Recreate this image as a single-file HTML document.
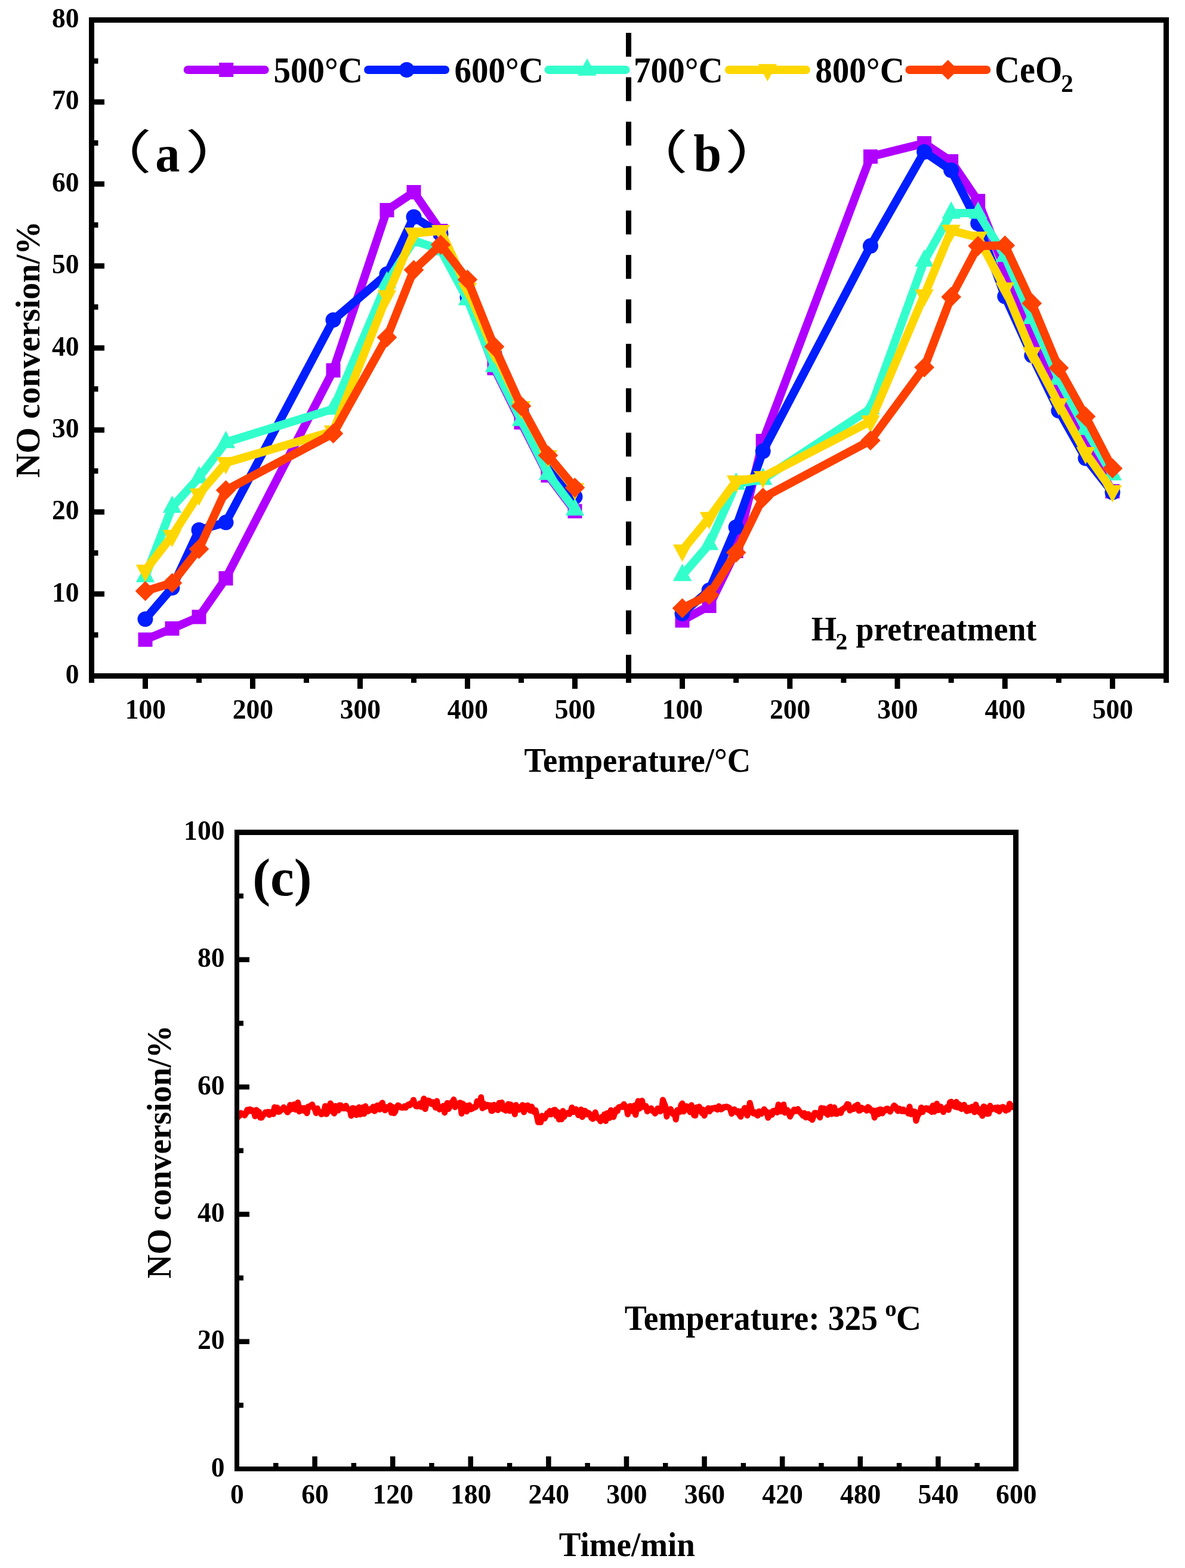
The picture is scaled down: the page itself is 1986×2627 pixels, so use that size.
<!DOCTYPE html>
<html><head><meta charset="utf-8"><title>NO conversion</title>
<style>html,body{margin:0;padding:0;background:#fff;}svg{display:block;}</style></head>
<body>
<svg width="1986" height="2627" viewBox="0 0 1986 2627">
<rect x="0" y="0" width="1986" height="2627" fill="#fff"/>
<path d="M243.50,1071.64 L288.50,1052.96 L333.50,1033.59 L378.50,968.89 L558.50,620.50 L648.50,352.07 L693.50,321.99 L738.50,386.97 L783.50,495.08 L828.50,616.66 L873.50,707.60 L918.50,796.48 L963.50,856.38" fill="none" stroke="#B000FF" stroke-width="14" stroke-linejoin="round" stroke-linecap="round"/>
<rect x="231.50" y="1059.64" width="24" height="24" fill="#B000FF"/>
<rect x="276.50" y="1040.96" width="24" height="24" fill="#B000FF"/>
<rect x="321.50" y="1021.59" width="24" height="24" fill="#B000FF"/>
<rect x="366.50" y="956.89" width="24" height="24" fill="#B000FF"/>
<rect x="546.50" y="608.50" width="24" height="24" fill="#B000FF"/>
<rect x="636.50" y="340.07" width="24" height="24" fill="#B000FF"/>
<rect x="681.50" y="309.99" width="24" height="24" fill="#B000FF"/>
<rect x="726.50" y="374.97" width="24" height="24" fill="#B000FF"/>
<rect x="771.50" y="483.08" width="24" height="24" fill="#B000FF"/>
<rect x="816.50" y="604.66" width="24" height="24" fill="#B000FF"/>
<rect x="861.50" y="695.60" width="24" height="24" fill="#B000FF"/>
<rect x="906.50" y="784.48" width="24" height="24" fill="#B000FF"/>
<rect x="951.50" y="844.38" width="24" height="24" fill="#B000FF"/>
<path d="M243.50,1037.30 L288.50,984.82 L333.50,887.97 L378.50,875.33 L558.50,536.16 L648.50,459.36 L693.50,363.47 L738.50,392.05 L783.50,497.83 L828.50,592.62 L873.50,688.78 L918.50,775.33 L963.50,832.20" fill="none" stroke="#001EFF" stroke-width="14" stroke-linejoin="round" stroke-linecap="round"/>
<circle cx="243.50" cy="1037.30" r="13" fill="#001EFF"/>
<circle cx="288.50" cy="984.82" r="13" fill="#001EFF"/>
<circle cx="333.50" cy="887.97" r="13" fill="#001EFF"/>
<circle cx="378.50" cy="875.33" r="13" fill="#001EFF"/>
<circle cx="558.50" cy="536.16" r="13" fill="#001EFF"/>
<circle cx="648.50" cy="459.36" r="13" fill="#001EFF"/>
<circle cx="693.50" cy="363.47" r="13" fill="#001EFF"/>
<circle cx="738.50" cy="392.05" r="13" fill="#001EFF"/>
<circle cx="783.50" cy="497.83" r="13" fill="#001EFF"/>
<circle cx="828.50" cy="592.62" r="13" fill="#001EFF"/>
<circle cx="873.50" cy="688.78" r="13" fill="#001EFF"/>
<circle cx="918.50" cy="775.33" r="13" fill="#001EFF"/>
<circle cx="963.50" cy="832.20" r="13" fill="#001EFF"/>
<path d="M243.50,965.86 L288.50,849.51 L333.50,800.05 L378.50,740.98 L558.50,685.07 L648.50,473.51 L693.50,403.04 L738.50,418.15 L783.50,501.95 L828.50,613.91 L873.50,704.16 L918.50,794.28 L963.50,854.04" fill="none" stroke="#33FFCC" stroke-width="14" stroke-linejoin="round" stroke-linecap="round"/>
<polygon points="243.50,946.53 259.20,975.53 227.80,975.53" fill="#33FFCC"/>
<polygon points="288.50,830.17 304.20,859.17 272.80,859.17" fill="#33FFCC"/>
<polygon points="333.50,780.72 349.20,809.72 317.80,809.72" fill="#33FFCC"/>
<polygon points="378.50,721.65 394.20,750.65 362.80,750.65" fill="#33FFCC"/>
<polygon points="558.50,665.74 574.20,694.74 542.80,694.74" fill="#33FFCC"/>
<polygon points="648.50,454.18 664.20,483.18 632.80,483.18" fill="#33FFCC"/>
<polygon points="693.50,383.71 709.20,412.71 677.80,412.71" fill="#33FFCC"/>
<polygon points="738.50,398.82 754.20,427.82 722.80,427.82" fill="#33FFCC"/>
<polygon points="783.50,482.62 799.20,511.62 767.80,511.62" fill="#33FFCC"/>
<polygon points="828.50,594.58 844.20,623.58 812.80,623.58" fill="#33FFCC"/>
<polygon points="873.50,684.83 889.20,713.83 857.80,713.83" fill="#33FFCC"/>
<polygon points="918.50,774.95 934.20,803.95 902.80,803.95" fill="#33FFCC"/>
<polygon points="963.50,834.71 979.20,863.71 947.80,863.71" fill="#33FFCC"/>
<path d="M243.50,955.56 L288.50,897.45 L333.50,827.80 L378.50,775.33 L558.50,722.44 L648.50,496.04 L693.50,390.95 L738.50,386.55 L783.50,483.68 L828.50,589.87 L873.50,681.64 L918.50,763.92 L963.50,818.87" fill="none" stroke="#FFD700" stroke-width="14" stroke-linejoin="round" stroke-linecap="round"/>
<polygon points="243.50,974.89 259.20,945.89 227.80,945.89" fill="#FFD700"/>
<polygon points="288.50,916.78 304.20,887.78 272.80,887.78" fill="#FFD700"/>
<polygon points="333.50,847.14 349.20,818.14 317.80,818.14" fill="#FFD700"/>
<polygon points="378.50,794.66 394.20,765.66 362.80,765.66" fill="#FFD700"/>
<polygon points="558.50,741.77 574.20,712.77 542.80,712.77" fill="#FFD700"/>
<polygon points="648.50,515.37 664.20,486.37 632.80,486.37" fill="#FFD700"/>
<polygon points="693.50,410.28 709.20,381.28 677.80,381.28" fill="#FFD700"/>
<polygon points="738.50,405.89 754.20,376.89 722.80,376.89" fill="#FFD700"/>
<polygon points="783.50,503.01 799.20,474.01 767.80,474.01" fill="#FFD700"/>
<polygon points="828.50,609.20 844.20,580.20 812.80,580.20" fill="#FFD700"/>
<polygon points="873.50,700.97 889.20,671.97 857.80,671.97" fill="#FFD700"/>
<polygon points="918.50,783.26 934.20,754.26 902.80,754.26" fill="#FFD700"/>
<polygon points="963.50,838.21 979.20,809.21 947.80,809.21" fill="#FFD700"/>
<path d="M243.50,990.18 L288.50,976.72 L333.50,919.71 L378.50,821.21 L558.50,726.28 L648.50,565.28 L693.50,452.36 L738.50,410.04 L783.50,468.43 L828.50,580.66 L873.50,680.26 L918.50,762.96 L963.50,816.95" fill="none" stroke="#FF4000" stroke-width="14" stroke-linejoin="round" stroke-linecap="round"/>
<polygon points="243.50,973.38 260.30,990.18 243.50,1006.98 226.70,990.18" fill="#FF4000"/>
<polygon points="288.50,959.92 305.30,976.72 288.50,993.52 271.70,976.72" fill="#FF4000"/>
<polygon points="333.50,902.91 350.30,919.71 333.50,936.51 316.70,919.71" fill="#FF4000"/>
<polygon points="378.50,804.41 395.30,821.21 378.50,838.01 361.70,821.21" fill="#FF4000"/>
<polygon points="558.50,709.48 575.30,726.28 558.50,743.08 541.70,726.28" fill="#FF4000"/>
<polygon points="648.50,548.48 665.30,565.28 648.50,582.08 631.70,565.28" fill="#FF4000"/>
<polygon points="693.50,435.56 710.30,452.36 693.50,469.16 676.70,452.36" fill="#FF4000"/>
<polygon points="738.50,393.24 755.30,410.04 738.50,426.84 721.70,410.04" fill="#FF4000"/>
<polygon points="783.50,451.63 800.30,468.43 783.50,485.23 766.70,468.43" fill="#FF4000"/>
<polygon points="828.50,563.86 845.30,580.66 828.50,597.46 811.70,580.66" fill="#FF4000"/>
<polygon points="873.50,663.46 890.30,680.26 873.50,697.06 856.70,680.26" fill="#FF4000"/>
<polygon points="918.50,746.16 935.30,762.96 918.50,779.76 901.70,762.96" fill="#FF4000"/>
<polygon points="963.50,800.15 980.30,816.95 963.50,833.75 946.70,816.95" fill="#FF4000"/>
<path d="M1143.50,1039.50 L1188.56,1015.04 L1233.62,923.14 L1278.69,738.92 L1458.94,262.37 L1549.06,240.11 L1594.12,270.33 L1639.19,336.82 L1684.25,451.12 L1729.31,554.70 L1774.38,662.27 L1819.44,746.06 L1864.50,823.13" fill="none" stroke="#B000FF" stroke-width="14" stroke-linejoin="round" stroke-linecap="round"/>
<rect x="1131.50" y="1027.50" width="24" height="24" fill="#B000FF"/>
<rect x="1176.56" y="1003.04" width="24" height="24" fill="#B000FF"/>
<rect x="1221.62" y="911.14" width="24" height="24" fill="#B000FF"/>
<rect x="1266.69" y="726.92" width="24" height="24" fill="#B000FF"/>
<rect x="1446.94" y="250.37" width="24" height="24" fill="#B000FF"/>
<rect x="1537.06" y="228.11" width="24" height="24" fill="#B000FF"/>
<rect x="1582.12" y="258.33" width="24" height="24" fill="#B000FF"/>
<rect x="1627.19" y="324.82" width="24" height="24" fill="#B000FF"/>
<rect x="1672.25" y="439.12" width="24" height="24" fill="#B000FF"/>
<rect x="1717.31" y="542.70" width="24" height="24" fill="#B000FF"/>
<rect x="1762.38" y="650.27" width="24" height="24" fill="#B000FF"/>
<rect x="1807.44" y="734.06" width="24" height="24" fill="#B000FF"/>
<rect x="1852.50" y="811.13" width="24" height="24" fill="#B000FF"/>
<path d="M1143.50,1027.82 L1188.56,988.94 L1233.62,883.16 L1278.69,756.09 L1458.94,412.11 L1549.06,254.54 L1594.12,285.31 L1639.19,374.19 L1684.25,496.45 L1729.31,595.36 L1774.38,688.09 L1819.44,767.77 L1864.50,824.78" fill="none" stroke="#001EFF" stroke-width="14" stroke-linejoin="round" stroke-linecap="round"/>
<circle cx="1143.50" cy="1027.82" r="13" fill="#001EFF"/>
<circle cx="1188.56" cy="988.94" r="13" fill="#001EFF"/>
<circle cx="1233.62" cy="883.16" r="13" fill="#001EFF"/>
<circle cx="1278.69" cy="756.09" r="13" fill="#001EFF"/>
<circle cx="1458.94" cy="412.11" r="13" fill="#001EFF"/>
<circle cx="1549.06" cy="254.54" r="13" fill="#001EFF"/>
<circle cx="1594.12" cy="285.31" r="13" fill="#001EFF"/>
<circle cx="1639.19" cy="374.19" r="13" fill="#001EFF"/>
<circle cx="1684.25" cy="496.45" r="13" fill="#001EFF"/>
<circle cx="1729.31" cy="595.36" r="13" fill="#001EFF"/>
<circle cx="1774.38" cy="688.09" r="13" fill="#001EFF"/>
<circle cx="1819.44" cy="767.77" r="13" fill="#001EFF"/>
<circle cx="1864.50" cy="824.78" r="13" fill="#001EFF"/>
<path d="M1143.50,963.94 L1188.56,911.88 L1233.62,810.91 L1278.69,802.80 L1458.94,684.66 L1549.06,436.97 L1594.12,356.88 L1639.19,356.88 L1684.25,429.14 L1729.31,533.27 L1774.38,635.20 L1819.44,719.00 L1864.50,795.11" fill="none" stroke="#33FFCC" stroke-width="14" stroke-linejoin="round" stroke-linecap="round"/>
<polygon points="1143.50,944.61 1159.20,973.61 1127.80,973.61" fill="#33FFCC"/>
<polygon points="1188.56,892.54 1204.26,921.54 1172.86,921.54" fill="#33FFCC"/>
<polygon points="1233.62,791.57 1249.33,820.57 1217.92,820.57" fill="#33FFCC"/>
<polygon points="1278.69,783.47 1294.39,812.47 1262.99,812.47" fill="#33FFCC"/>
<polygon points="1458.94,665.32 1474.64,694.32 1443.24,694.32" fill="#33FFCC"/>
<polygon points="1549.06,417.64 1564.76,446.64 1533.36,446.64" fill="#33FFCC"/>
<polygon points="1594.12,337.55 1609.83,366.55 1578.42,366.55" fill="#33FFCC"/>
<polygon points="1639.19,337.55 1654.89,366.55 1623.49,366.55" fill="#33FFCC"/>
<polygon points="1684.25,409.81 1699.95,438.81 1668.55,438.81" fill="#33FFCC"/>
<polygon points="1729.31,513.94 1745.01,542.94 1713.61,542.94" fill="#33FFCC"/>
<polygon points="1774.38,615.87 1790.08,644.87 1758.67,644.87" fill="#33FFCC"/>
<polygon points="1819.44,699.67 1835.14,728.67 1803.74,728.67" fill="#33FFCC"/>
<polygon points="1864.50,775.77 1880.20,804.77 1848.80,804.77" fill="#33FFCC"/>
<path d="M1143.50,921.90 L1188.56,867.37 L1233.62,806.23 L1278.69,798.95 L1458.94,705.68 L1549.06,494.39 L1594.12,386.14 L1639.19,397.68 L1684.25,482.99 L1729.31,591.24 L1774.38,676.83 L1819.44,758.70 L1864.50,822.31" fill="none" stroke="#FFD700" stroke-width="14" stroke-linejoin="round" stroke-linecap="round"/>
<polygon points="1143.50,941.24 1159.20,912.24 1127.80,912.24" fill="#FFD700"/>
<polygon points="1188.56,886.70 1204.26,857.70 1172.86,857.70" fill="#FFD700"/>
<polygon points="1233.62,825.57 1249.33,796.57 1217.92,796.57" fill="#FFD700"/>
<polygon points="1278.69,818.29 1294.39,789.29 1262.99,789.29" fill="#FFD700"/>
<polygon points="1458.94,725.01 1474.64,696.01 1443.24,696.01" fill="#FFD700"/>
<polygon points="1549.06,513.73 1564.76,484.73 1533.36,484.73" fill="#FFD700"/>
<polygon points="1594.12,405.47 1609.83,376.47 1578.42,376.47" fill="#FFD700"/>
<polygon points="1639.19,417.01 1654.89,388.01 1623.49,388.01" fill="#FFD700"/>
<polygon points="1684.25,502.32 1699.95,473.32 1668.55,473.32" fill="#FFD700"/>
<polygon points="1729.31,610.58 1745.01,581.58 1713.61,581.58" fill="#FFD700"/>
<polygon points="1774.38,696.16 1790.08,667.16 1758.67,667.16" fill="#FFD700"/>
<polygon points="1819.44,778.04 1835.14,749.04 1803.74,749.04" fill="#FFD700"/>
<polygon points="1864.50,841.64 1880.20,812.64 1848.80,812.64" fill="#FFD700"/>
<path d="M1143.50,1019.03 L1188.56,996.77 L1233.62,925.75 L1278.69,833.85 L1458.94,737.96 L1549.06,615.56 L1594.12,497.42 L1639.19,412.11 L1684.25,411.28 L1729.31,508.13 L1774.38,616.38 L1819.44,697.71 L1864.50,784.67" fill="none" stroke="#FF4000" stroke-width="14" stroke-linejoin="round" stroke-linecap="round"/>
<polygon points="1143.50,1002.23 1160.30,1019.03 1143.50,1035.83 1126.70,1019.03" fill="#FF4000"/>
<polygon points="1188.56,979.97 1205.36,996.77 1188.56,1013.57 1171.76,996.77" fill="#FF4000"/>
<polygon points="1233.62,908.95 1250.42,925.75 1233.62,942.55 1216.83,925.75" fill="#FF4000"/>
<polygon points="1278.69,817.05 1295.49,833.85 1278.69,850.65 1261.89,833.85" fill="#FF4000"/>
<polygon points="1458.94,721.16 1475.74,737.96 1458.94,754.76 1442.14,737.96" fill="#FF4000"/>
<polygon points="1549.06,598.76 1565.86,615.56 1549.06,632.36 1532.26,615.56" fill="#FF4000"/>
<polygon points="1594.12,480.62 1610.92,497.42 1594.12,514.22 1577.33,497.42" fill="#FF4000"/>
<polygon points="1639.19,395.31 1655.99,412.11 1639.19,428.91 1622.39,412.11" fill="#FF4000"/>
<polygon points="1684.25,394.48 1701.05,411.28 1684.25,428.08 1667.45,411.28" fill="#FF4000"/>
<polygon points="1729.31,491.33 1746.11,508.13 1729.31,524.93 1712.51,508.13" fill="#FF4000"/>
<polygon points="1774.38,599.58 1791.17,616.38 1774.38,633.18 1757.58,616.38" fill="#FF4000"/>
<polygon points="1819.44,680.91 1836.24,697.71 1819.44,714.51 1802.64,697.71" fill="#FF4000"/>
<polygon points="1864.50,767.87 1881.30,784.67 1864.50,801.47 1847.70,784.67" fill="#FF4000"/>
<rect x="149.00" y="29.00" width="1810.00" height="9.00" fill="#000"/>
<rect x="149.00" y="1128.00" width="1810.00" height="9.00" fill="#000"/>
<rect x="149.00" y="29.00" width="9.00" height="1115.00" fill="#000"/>
<rect x="1950.00" y="29.00" width="9.00" height="1115.00" fill="#000"/>
<rect x="1049.00" y="55.00" width="9.00" height="40.00" fill="#000"/>
<rect x="1049.00" y="129.43" width="9.00" height="40.00" fill="#000"/>
<rect x="1049.00" y="203.86" width="9.00" height="40.00" fill="#000"/>
<rect x="1049.00" y="278.29" width="9.00" height="40.00" fill="#000"/>
<rect x="1049.00" y="352.72" width="9.00" height="40.00" fill="#000"/>
<rect x="1049.00" y="427.15" width="9.00" height="40.00" fill="#000"/>
<rect x="1049.00" y="501.58" width="9.00" height="40.00" fill="#000"/>
<rect x="1049.00" y="576.01" width="9.00" height="40.00" fill="#000"/>
<rect x="1049.00" y="650.44" width="9.00" height="40.00" fill="#000"/>
<rect x="1049.00" y="724.87" width="9.00" height="40.00" fill="#000"/>
<rect x="1049.00" y="799.30" width="9.00" height="40.00" fill="#000"/>
<rect x="1049.00" y="873.73" width="9.00" height="40.00" fill="#000"/>
<rect x="1049.00" y="948.16" width="9.00" height="40.00" fill="#000"/>
<rect x="1049.00" y="1022.59" width="9.00" height="40.00" fill="#000"/>
<rect x="1049.00" y="1097.02" width="9.00" height="39.98" fill="#000"/>
<rect x="1049.00" y="1128.00" width="9.00" height="16.00" fill="#000"/>
<rect x="158.00" y="1128.00" width="17.00" height="9.00" fill="#000"/>
<rect x="158.00" y="990.62" width="17.00" height="9.00" fill="#000"/>
<rect x="158.00" y="853.25" width="17.00" height="9.00" fill="#000"/>
<rect x="158.00" y="715.88" width="17.00" height="9.00" fill="#000"/>
<rect x="158.00" y="578.50" width="17.00" height="9.00" fill="#000"/>
<rect x="158.00" y="441.12" width="17.00" height="9.00" fill="#000"/>
<rect x="158.00" y="303.75" width="17.00" height="9.00" fill="#000"/>
<rect x="158.00" y="166.38" width="17.00" height="9.00" fill="#000"/>
<rect x="158.00" y="29.00" width="17.00" height="9.00" fill="#000"/>
<rect x="158.00" y="1059.31" width="6.50" height="9.00" fill="#000"/>
<rect x="158.00" y="921.94" width="6.50" height="9.00" fill="#000"/>
<rect x="158.00" y="784.56" width="6.50" height="9.00" fill="#000"/>
<rect x="158.00" y="647.19" width="6.50" height="9.00" fill="#000"/>
<rect x="158.00" y="509.81" width="6.50" height="9.00" fill="#000"/>
<rect x="158.00" y="372.44" width="6.50" height="9.00" fill="#000"/>
<rect x="158.00" y="235.06" width="6.50" height="9.00" fill="#000"/>
<rect x="158.00" y="97.69" width="6.50" height="9.00" fill="#000"/>
<rect x="239.00" y="1137.00" width="9.00" height="17.00" fill="#000"/>
<rect x="419.00" y="1137.00" width="9.00" height="17.00" fill="#000"/>
<rect x="599.00" y="1137.00" width="9.00" height="17.00" fill="#000"/>
<rect x="779.00" y="1137.00" width="9.00" height="17.00" fill="#000"/>
<rect x="959.00" y="1137.00" width="9.00" height="17.00" fill="#000"/>
<rect x="329.00" y="1137.00" width="9.00" height="7.00" fill="#000"/>
<rect x="509.00" y="1137.00" width="9.00" height="7.00" fill="#000"/>
<rect x="689.00" y="1137.00" width="9.00" height="7.00" fill="#000"/>
<rect x="869.00" y="1137.00" width="9.00" height="7.00" fill="#000"/>
<rect x="1139.00" y="1137.00" width="9.00" height="17.00" fill="#000"/>
<rect x="1319.25" y="1137.00" width="9.00" height="17.00" fill="#000"/>
<rect x="1499.50" y="1137.00" width="9.00" height="17.00" fill="#000"/>
<rect x="1679.75" y="1137.00" width="9.00" height="17.00" fill="#000"/>
<rect x="1860.00" y="1137.00" width="9.00" height="17.00" fill="#000"/>
<rect x="1229.12" y="1137.00" width="9.00" height="7.00" fill="#000"/>
<rect x="1409.38" y="1137.00" width="9.00" height="7.00" fill="#000"/>
<rect x="1589.62" y="1137.00" width="9.00" height="7.00" fill="#000"/>
<rect x="1769.88" y="1137.00" width="9.00" height="7.00" fill="#000"/>
<text x="132.50" y="1145.00" font-size="45.60" text-anchor="end" style="font-family:'Liberation Serif', serif;font-weight:bold">0</text>
<text x="132.50" y="1007.62" font-size="45.60" text-anchor="end" style="font-family:'Liberation Serif', serif;font-weight:bold">10</text>
<text x="132.50" y="870.25" font-size="45.60" text-anchor="end" style="font-family:'Liberation Serif', serif;font-weight:bold">20</text>
<text x="132.50" y="732.88" font-size="45.60" text-anchor="end" style="font-family:'Liberation Serif', serif;font-weight:bold">30</text>
<text x="132.50" y="595.50" font-size="45.60" text-anchor="end" style="font-family:'Liberation Serif', serif;font-weight:bold">40</text>
<text x="132.50" y="458.12" font-size="45.60" text-anchor="end" style="font-family:'Liberation Serif', serif;font-weight:bold">50</text>
<text x="132.50" y="320.75" font-size="45.60" text-anchor="end" style="font-family:'Liberation Serif', serif;font-weight:bold">60</text>
<text x="132.50" y="183.38" font-size="45.60" text-anchor="end" style="font-family:'Liberation Serif', serif;font-weight:bold">70</text>
<text x="132.50" y="46.00" font-size="45.60" text-anchor="end" style="font-family:'Liberation Serif', serif;font-weight:bold">80</text>
<text x="243.90" y="1204.00" font-size="45.60" text-anchor="middle" style="font-family:'Liberation Serif', serif;font-weight:bold">100</text>
<text x="423.90" y="1204.00" font-size="45.60" text-anchor="middle" style="font-family:'Liberation Serif', serif;font-weight:bold">200</text>
<text x="603.90" y="1204.00" font-size="45.60" text-anchor="middle" style="font-family:'Liberation Serif', serif;font-weight:bold">300</text>
<text x="783.90" y="1204.00" font-size="45.60" text-anchor="middle" style="font-family:'Liberation Serif', serif;font-weight:bold">400</text>
<text x="963.90" y="1204.00" font-size="45.60" text-anchor="middle" style="font-family:'Liberation Serif', serif;font-weight:bold">500</text>
<text x="1143.90" y="1204.00" font-size="45.60" text-anchor="middle" style="font-family:'Liberation Serif', serif;font-weight:bold">100</text>
<text x="1324.15" y="1204.00" font-size="45.60" text-anchor="middle" style="font-family:'Liberation Serif', serif;font-weight:bold">200</text>
<text x="1504.40" y="1204.00" font-size="45.60" text-anchor="middle" style="font-family:'Liberation Serif', serif;font-weight:bold">300</text>
<text x="1684.65" y="1204.00" font-size="45.60" text-anchor="middle" style="font-family:'Liberation Serif', serif;font-weight:bold">400</text>
<text x="1864.90" y="1204.00" font-size="45.60" text-anchor="middle" style="font-family:'Liberation Serif', serif;font-weight:bold">500</text>
<line x1="314.70" y1="117.0" x2="443.70" y2="117.0" stroke="#B000FF" stroke-width="14" stroke-linecap="round"/>
<rect x="367.20" y="105.00" width="24" height="24" fill="#B000FF"/>
<line x1="617.10" y1="117.0" x2="746.10" y2="117.0" stroke="#001EFF" stroke-width="14" stroke-linecap="round"/>
<circle cx="681.60" cy="117.00" r="13" fill="#001EFF"/>
<line x1="919.50" y1="117.0" x2="1048.50" y2="117.0" stroke="#33FFCC" stroke-width="14" stroke-linecap="round"/>
<polygon points="984.00,97.67 999.70,126.67 968.30,126.67" fill="#33FFCC"/>
<line x1="1221.90" y1="117.0" x2="1350.90" y2="117.0" stroke="#FFD700" stroke-width="14" stroke-linecap="round"/>
<polygon points="1286.40,136.33 1302.10,107.33 1270.70,107.33" fill="#FFD700"/>
<line x1="1524.30" y1="117.0" x2="1653.30" y2="117.0" stroke="#FF4000" stroke-width="14" stroke-linecap="round"/>
<polygon points="1588.80,100.20 1605.60,117.00 1588.80,133.80 1572.00,117.00" fill="#FF4000"/>
<text transform="translate(458.42,137.50) scale(0.9200,1)" font-size="62.06" style="font-family:'Liberation Serif', serif;font-weight:bold">500°C</text>
<text transform="translate(761.39,137.50) scale(0.9200,1)" font-size="62.06" style="font-family:'Liberation Serif', serif;font-weight:bold">600°C</text>
<text transform="translate(1062.07,137.50) scale(0.9200,1)" font-size="62.06" style="font-family:'Liberation Serif', serif;font-weight:bold">700°C</text>
<text transform="translate(1366.19,137.50) scale(0.9200,1)" font-size="62.06" style="font-family:'Liberation Serif', serif;font-weight:bold">800°C</text>
<text transform="translate(1666.99,137.54) scale(0.9272,1)" font-size="62.84" style="font-family:'Liberation Serif', serif;font-weight:bold">CeO</text>
<text transform="translate(1778.35,153.67) scale(0.9606,1)" font-size="42.88" style="font-family:'Liberation Serif', serif;font-weight:bold">2</text>
<text transform="translate(146.78,283.18) scale(1.3758,1)" font-size="78.21" style="font-family:'Liberation Serif','Noto Sans CJK SC',sans-serif;font-weight:400">（</text>
<text transform="translate(260.33,286.80) scale(0.9203,1)" font-size="89.58" style="font-family:'Liberation Serif', serif;font-weight:bold">a</text>
<text transform="translate(310.10,283.18) scale(1.4320,1)" font-size="78.21" style="font-family:'Liberation Serif','Noto Sans CJK SC',sans-serif;font-weight:400">）</text>
<text transform="translate(1045.68,283.18) scale(1.3758,1)" font-size="78.21" style="font-family:'Liberation Serif','Noto Sans CJK SC',sans-serif;font-weight:400">（</text>
<text transform="translate(1162.16,286.82) scale(0.9535,1)" font-size="88.43" style="font-family:'Liberation Serif', serif;font-weight:bold">b</text>
<text transform="translate(1214.50,283.18) scale(1.4065,1)" font-size="78.21" style="font-family:'Liberation Serif','Noto Sans CJK SC',sans-serif;font-weight:400">）</text>
<text transform="translate(1359.71,1072.90) scale(0.9541,1)" font-size="57.08" style="font-family:'Liberation Serif', serif;font-weight:bold">H</text>
<text transform="translate(1400.61,1087.60) scale(0.9940,1)" font-size="40.00" style="font-family:'Liberation Serif', serif;font-weight:bold">2</text>
<text transform="translate(1434.46,1072.54) scale(0.9291,1)" font-size="57.92" style="font-family:'Liberation Serif', serif;font-weight:bold">pretreatment</text>
<text transform="translate(878.61,1293.00) scale(0.9558,1)" font-size="57.10" style="font-family:'Liberation Serif', serif;font-weight:bold">Temperature/°C</text>
<text transform="translate(65.80,800.33) rotate(-90) scale(0.9707,1)" font-size="58.00" style="font-family:'Liberation Serif', serif;font-weight:bold">NO conversion/%</text>
<path d="M397.0,1874.4 L399.2,1869.6 L401.4,1869.4 L403.5,1864.6 L405.7,1866.5 L407.9,1866.1 L410.1,1868.7 L412.2,1865.3 L414.4,1859.2 L416.6,1861.7 L418.8,1858.4 L420.9,1861.4 L423.1,1860.1 L425.3,1861.2 L427.5,1870.2 L429.6,1859.6 L431.8,1861.8 L434.0,1862.6 L436.2,1872.4 L438.4,1872.6 L440.5,1868.8 L442.7,1866.9 L444.9,1863.5 L447.1,1865.2 L449.2,1862.7 L451.4,1868.0 L453.6,1863.8 L455.8,1862.6 L457.9,1866.5 L460.1,1855.0 L462.3,1859.4 L464.5,1855.6 L466.6,1862.8 L468.8,1862.4 L471.0,1859.7 L473.2,1857.9 L475.4,1855.1 L477.5,1857.3 L479.7,1860.9 L481.9,1863.6 L484.1,1860.6 L486.2,1851.1 L488.4,1858.5 L490.6,1852.1 L492.8,1850.2 L494.9,1859.1 L497.1,1852.5 L499.3,1847.1 L501.5,1862.3 L503.6,1855.8 L505.8,1856.3 L508.0,1860.8 L510.2,1856.3 L512.4,1859.6 L514.5,1865.1 L516.7,1854.1 L518.9,1854.1 L521.1,1852.1 L523.2,1850.5 L525.4,1856.0 L527.6,1857.8 L529.8,1864.9 L531.9,1856.9 L534.1,1862.9 L536.3,1862.7 L538.5,1866.8 L540.6,1866.0 L542.8,1862.6 L545.0,1853.1 L547.2,1866.6 L549.4,1862.7 L551.5,1854.2 L553.7,1848.5 L555.9,1852.1 L558.1,1863.0 L560.2,1865.4 L562.4,1853.0 L564.6,1858.4 L566.8,1860.6 L568.9,1851.7 L571.1,1851.8 L573.3,1856.7 L575.5,1857.0 L577.6,1856.9 L579.8,1852.4 L582.0,1857.5 L584.2,1858.7 L586.4,1859.2 L588.5,1869.4 L590.7,1856.4 L592.9,1856.9 L595.1,1857.8 L597.2,1868.0 L599.4,1861.3 L601.6,1855.0 L603.8,1867.2 L605.9,1860.2 L608.1,1855.2 L610.3,1866.0 L612.5,1853.3 L614.6,1858.4 L616.8,1862.0 L619.0,1860.0 L621.2,1857.8 L623.4,1859.5 L625.5,1854.2 L627.7,1861.5 L629.9,1859.5 L632.1,1852.1 L634.2,1855.7 L636.4,1858.8 L638.6,1849.9 L640.8,1847.6 L642.9,1856.2 L645.1,1860.3 L647.3,1854.8 L649.5,1856.0 L651.7,1858.1 L653.8,1851.9 L656.0,1864.3 L658.2,1854.6 L660.4,1865.1 L662.5,1862.1 L664.7,1854.9 L666.9,1851.9 L669.1,1852.9 L671.2,1855.1 L673.4,1855.8 L675.6,1855.7 L677.8,1853.3 L679.9,1855.7 L682.1,1852.7 L684.3,1850.4 L686.5,1852.0 L688.7,1848.5 L690.8,1849.3 L693.0,1842.7 L695.2,1850.1 L697.4,1853.6 L699.5,1853.7 L701.7,1852.4 L703.9,1848.6 L706.1,1854.6 L708.2,1849.2 L710.4,1840.5 L712.6,1858.1 L714.8,1849.5 L716.9,1843.8 L719.1,1844.1 L721.3,1845.8 L723.5,1849.8 L725.7,1846.4 L727.8,1850.1 L730.0,1855.8 L732.2,1844.6 L734.4,1856.0 L736.5,1858.8 L738.7,1855.5 L740.9,1854.7 L743.1,1852.7 L745.2,1864.2 L747.4,1854.4 L749.6,1848.0 L751.8,1858.0 L753.9,1853.4 L756.1,1847.4 L758.3,1846.4 L760.5,1842.1 L762.7,1854.9 L764.8,1849.2 L767.0,1850.7 L769.2,1848.0 L771.4,1847.4 L773.5,1865.8 L775.7,1849.3 L777.9,1861.1 L780.1,1852.0 L782.2,1862.2 L784.4,1855.3 L786.6,1851.6 L788.8,1858.4 L790.9,1857.7 L793.1,1855.1 L795.3,1855.8 L797.5,1854.5 L799.7,1844.9 L801.8,1844.8 L804.0,1850.9 L806.2,1838.3 L808.4,1856.7 L810.5,1848.5 L812.7,1854.7 L814.9,1853.2 L817.1,1850.9 L819.2,1853.4 L821.4,1851.8 L823.6,1861.3 L825.8,1860.8 L827.9,1850.9 L830.1,1857.7 L832.3,1857.7 L834.5,1859.9 L836.7,1847.7 L838.8,1850.2 L841.0,1847.1 L843.2,1858.5 L845.4,1854.9 L847.5,1860.7 L849.7,1852.8 L851.9,1849.7 L854.1,1861.2 L856.2,1850.6 L858.4,1853.6 L860.6,1859.2 L862.8,1866.8 L864.9,1851.2 L867.1,1857.5 L869.3,1859.3 L871.5,1854.8 L873.7,1855.5 L875.8,1851.3 L878.0,1863.3 L880.2,1854.4 L882.4,1852.4 L884.5,1852.0 L886.7,1858.9 L888.9,1860.9 L891.1,1854.1 L893.2,1860.8 L895.4,1863.3 L897.6,1860.1 L899.8,1870.3 L901.9,1880.3 L904.1,1872.8 L906.3,1880.3 L908.5,1869.3 L910.7,1871.1 L912.8,1873.9 L915.0,1869.9 L917.2,1864.8 L919.4,1866.9 L921.5,1861.1 L923.7,1867.1 L925.9,1861.9 L928.1,1859.7 L930.2,1859.3 L932.4,1869.7 L934.6,1863.0 L936.8,1875.5 L938.9,1872.0 L941.1,1875.4 L943.3,1861.3 L945.5,1871.1 L947.7,1865.0 L949.8,1865.5 L952.0,1864.4 L954.2,1866.6 L956.4,1862.6 L958.5,1855.4 L960.7,1863.0 L962.9,1860.6 L965.1,1858.3 L967.2,1863.4 L969.4,1868.4 L971.6,1865.7 L973.8,1858.8 L975.9,1871.4 L978.1,1867.2 L980.3,1861.0 L982.5,1862.9 L984.7,1867.3 L986.8,1864.6 L989.0,1867.4 L991.2,1873.2 L993.4,1874.7 L995.5,1870.3 L997.7,1863.6 L999.9,1871.2 L1002.1,1873.8 L1004.2,1874.2 L1006.4,1878.6 L1008.6,1871.2 L1010.8,1874.9 L1012.9,1866.9 L1015.1,1878.1 L1017.3,1865.0 L1019.5,1868.2 L1021.7,1873.0 L1023.8,1860.0 L1026.0,1863.4 L1028.2,1871.5 L1030.4,1864.7 L1032.5,1858.8 L1034.7,1861.4 L1036.9,1855.1 L1039.1,1854.4 L1041.2,1854.0 L1043.4,1854.7 L1045.6,1849.9 L1047.8,1853.5 L1049.9,1855.0 L1052.1,1867.0 L1054.3,1854.2 L1056.5,1853.0 L1058.7,1860.8 L1060.8,1862.2 L1063.0,1852.1 L1065.2,1867.8 L1067.4,1855.6 L1069.5,1844.6 L1071.7,1857.4 L1073.9,1847.9 L1076.1,1844.0 L1078.2,1854.5 L1080.4,1852.9 L1082.6,1852.9 L1084.8,1862.1 L1087.0,1859.2 L1089.1,1858.3 L1091.3,1856.7 L1093.5,1861.2 L1095.7,1862.0 L1097.8,1865.6 L1100.0,1862.7 L1102.2,1857.1 L1104.4,1859.5 L1106.5,1862.0 L1108.7,1860.1 L1110.9,1842.6 L1113.1,1848.5 L1115.2,1853.5 L1117.4,1870.7 L1119.6,1859.0 L1121.8,1862.4 L1124.0,1858.1 L1126.1,1864.2 L1128.3,1866.8 L1130.5,1864.6 L1132.7,1875.5 L1134.8,1859.9 L1137.0,1860.8 L1139.2,1863.1 L1141.4,1851.8 L1143.5,1848.6 L1145.7,1862.3 L1147.9,1858.3 L1150.1,1853.3 L1152.2,1854.0 L1154.4,1858.6 L1156.6,1863.3 L1158.8,1851.5 L1161.0,1858.4 L1163.1,1868.6 L1165.3,1869.1 L1167.5,1855.2 L1169.7,1858.2 L1171.8,1854.1 L1174.0,1858.0 L1176.2,1864.8 L1178.4,1859.1 L1180.5,1869.2 L1182.7,1862.7 L1184.9,1859.4 L1187.1,1856.6 L1189.2,1862.0 L1191.4,1859.2 L1193.6,1856.6 L1195.8,1857.0 L1198.0,1855.8 L1200.1,1857.7 L1202.3,1859.1 L1204.5,1853.2 L1206.7,1855.6 L1208.8,1858.5 L1211.0,1857.2 L1213.2,1854.5 L1215.4,1855.0 L1217.5,1853.9 L1219.7,1854.7 L1221.9,1855.8 L1224.1,1859.1 L1226.2,1866.0 L1228.4,1860.4 L1230.6,1858.4 L1232.8,1861.2 L1235.0,1864.1 L1237.1,1861.4 L1239.3,1867.7 L1241.5,1870.9 L1243.7,1861.2 L1245.8,1864.7 L1248.0,1856.2 L1250.2,1863.3 L1252.4,1869.0 L1254.5,1860.6 L1256.7,1847.7 L1258.9,1856.2 L1261.1,1864.4 L1263.2,1865.5 L1265.4,1863.5 L1267.6,1867.4 L1269.8,1869.1 L1272.0,1861.9 L1274.1,1864.1 L1276.3,1866.0 L1278.5,1862.3 L1280.7,1858.3 L1282.8,1862.1 L1285.0,1862.6 L1287.2,1872.7 L1289.4,1868.2 L1291.5,1863.7 L1293.7,1867.7 L1295.9,1861.0 L1298.1,1862.4 L1300.2,1859.9 L1302.4,1863.8 L1304.6,1850.4 L1306.8,1855.1 L1309.0,1862.0 L1311.1,1861.2 L1313.3,1850.5 L1315.5,1864.2 L1317.7,1859.4 L1319.8,1859.7 L1322.0,1864.7 L1324.2,1870.7 L1326.4,1865.4 L1328.5,1863.6 L1330.7,1859.0 L1332.9,1859.4 L1335.1,1861.6 L1337.2,1858.1 L1339.4,1861.1 L1341.6,1864.2 L1343.8,1866.5 L1346.0,1869.4 L1348.1,1864.8 L1350.3,1872.2 L1352.5,1869.8 L1354.7,1866.5 L1356.8,1873.1 L1359.0,1869.1 L1361.2,1876.2 L1363.4,1870.2 L1365.5,1864.6 L1367.7,1864.6 L1369.9,1867.4 L1372.1,1868.2 L1374.2,1872.2 L1376.4,1856.3 L1378.6,1860.9 L1380.8,1856.9 L1383.0,1864.6 L1385.1,1860.9 L1387.3,1867.7 L1389.5,1855.5 L1391.7,1854.2 L1393.8,1866.5 L1396.0,1858.2 L1398.2,1855.2 L1400.4,1865.9 L1402.5,1866.2 L1404.7,1862.9 L1406.9,1861.1 L1409.1,1864.8 L1411.2,1858.6 L1413.4,1857.9 L1415.6,1855.7 L1417.8,1854.4 L1420.0,1849.8 L1422.1,1850.4 L1424.3,1860.5 L1426.5,1856.3 L1428.7,1858.4 L1430.8,1858.0 L1433.0,1853.1 L1435.2,1852.3 L1437.4,1850.7 L1439.5,1860.9 L1441.7,1860.2 L1443.9,1855.7 L1446.1,1857.3 L1448.2,1858.2 L1450.4,1857.4 L1452.6,1860.8 L1454.8,1854.6 L1457.0,1856.5 L1459.1,1859.0 L1461.3,1862.2 L1463.5,1860.5 L1465.7,1872.5 L1467.8,1865.1 L1470.0,1860.2 L1472.2,1866.7 L1474.4,1858.8 L1476.5,1858.7 L1478.7,1865.3 L1480.9,1860.5 L1483.1,1861.0 L1485.2,1857.7 L1487.4,1857.3 L1489.6,1859.9 L1491.8,1862.4 L1494.0,1858.2 L1496.1,1856.7 L1498.3,1852.1 L1500.5,1853.6 L1502.7,1858.4 L1504.8,1861.4 L1507.0,1857.2 L1509.2,1859.1 L1511.4,1861.7 L1513.5,1858.7 L1515.7,1861.9 L1517.9,1860.7 L1520.1,1860.3 L1522.3,1865.5 L1524.4,1854.1 L1526.6,1866.8 L1528.8,1861.3 L1531.0,1866.5 L1533.1,1862.2 L1535.3,1877.8 L1537.5,1870.5 L1539.7,1866.1 L1541.8,1864.5 L1544.0,1855.4 L1546.2,1863.1 L1548.4,1857.5 L1550.5,1858.5 L1552.7,1856.5 L1554.9,1857.8 L1557.1,1860.1 L1559.3,1856.5 L1561.4,1862.9 L1563.6,1852.3 L1565.8,1862.5 L1568.0,1857.1 L1570.1,1849.1 L1572.3,1859.9 L1574.5,1859.0 L1576.7,1854.0 L1578.8,1859.3 L1581.0,1863.1 L1583.2,1858.5 L1585.4,1856.4 L1587.5,1854.4 L1589.7,1859.6 L1591.9,1846.8 L1594.1,1845.8 L1596.3,1852.5 L1598.4,1851.3 L1600.6,1854.4 L1602.8,1846.0 L1605.0,1855.4 L1607.1,1849.9 L1609.3,1856.1 L1611.5,1858.0 L1613.7,1852.6 L1615.8,1850.9 L1618.0,1857.8 L1620.2,1861.6 L1622.4,1855.8 L1624.5,1860.6 L1626.7,1859.8 L1628.9,1854.3 L1631.1,1856.0 L1633.3,1863.3 L1635.4,1850.6 L1637.6,1860.8 L1639.8,1857.5 L1642.0,1864.1 L1644.1,1861.6 L1646.3,1869.5 L1648.5,1853.7 L1650.7,1854.8 L1652.8,1865.5 L1655.0,1866.0 L1657.2,1865.7 L1659.4,1852.5 L1661.5,1859.1 L1663.7,1856.7 L1665.9,1857.2 L1668.1,1855.7 L1670.3,1859.8 L1672.4,1855.2 L1674.6,1862.1 L1676.8,1856.3 L1679.0,1855.0 L1681.1,1854.5 L1683.3,1857.7 L1685.5,1860.8 L1687.7,1856.1 L1689.8,1859.1 L1692.0,1849.2 L1694.2,1851.8 L1696.4,1854.7 L1698.5,1855.3 L1700.7,1855.3 L1702.9,1855.4" fill="none" stroke="#FF0000" stroke-width="10" stroke-linejoin="round" stroke-linecap="butt"/>
<rect x="393.00" y="1390.00" width="1314.00" height="9.00" fill="#000"/>
<rect x="393.00" y="2457.00" width="1314.00" height="8.00" fill="#000"/>
<rect x="393.00" y="1390.00" width="8.00" height="1075.00" fill="#000"/>
<rect x="1698.00" y="1390.00" width="9.00" height="1075.00" fill="#000"/>
<rect x="401.00" y="2243.45" width="17.00" height="8.50" fill="#000"/>
<rect x="401.00" y="2030.15" width="17.00" height="8.50" fill="#000"/>
<rect x="401.00" y="1816.85" width="17.00" height="8.50" fill="#000"/>
<rect x="401.00" y="1603.55" width="17.00" height="8.50" fill="#000"/>
<rect x="401.00" y="1390.25" width="17.00" height="8.50" fill="#000"/>
<rect x="401.00" y="2350.10" width="7.00" height="8.50" fill="#000"/>
<rect x="401.00" y="2136.80" width="7.00" height="8.50" fill="#000"/>
<rect x="401.00" y="1923.50" width="7.00" height="8.50" fill="#000"/>
<rect x="401.00" y="1710.20" width="7.00" height="8.50" fill="#000"/>
<rect x="401.00" y="1496.90" width="7.00" height="8.50" fill="#000"/>
<rect x="523.34" y="2440.00" width="8.50" height="17.00" fill="#000"/>
<rect x="653.93" y="2440.00" width="8.50" height="17.00" fill="#000"/>
<rect x="784.52" y="2440.00" width="8.50" height="17.00" fill="#000"/>
<rect x="915.11" y="2440.00" width="8.50" height="17.00" fill="#000"/>
<rect x="1045.70" y="2440.00" width="8.50" height="17.00" fill="#000"/>
<rect x="1176.29" y="2440.00" width="8.50" height="17.00" fill="#000"/>
<rect x="1306.88" y="2440.00" width="8.50" height="17.00" fill="#000"/>
<rect x="1437.47" y="2440.00" width="8.50" height="17.00" fill="#000"/>
<rect x="1568.06" y="2440.00" width="8.50" height="17.00" fill="#000"/>
<rect x="458.05" y="2451.00" width="8.50" height="6.00" fill="#000"/>
<rect x="588.63" y="2451.00" width="8.50" height="6.00" fill="#000"/>
<rect x="719.22" y="2451.00" width="8.50" height="6.00" fill="#000"/>
<rect x="849.82" y="2451.00" width="8.50" height="6.00" fill="#000"/>
<rect x="980.40" y="2451.00" width="8.50" height="6.00" fill="#000"/>
<rect x="1110.99" y="2451.00" width="8.50" height="6.00" fill="#000"/>
<rect x="1241.59" y="2451.00" width="8.50" height="6.00" fill="#000"/>
<rect x="1372.17" y="2451.00" width="8.50" height="6.00" fill="#000"/>
<rect x="1502.76" y="2451.00" width="8.50" height="6.00" fill="#000"/>
<rect x="1633.36" y="2451.00" width="8.50" height="6.00" fill="#000"/>
<text x="376.50" y="2473.50" font-size="45.60" text-anchor="end" style="font-family:'Liberation Serif', serif;font-weight:bold">0</text>
<text x="376.50" y="2260.20" font-size="45.60" text-anchor="end" style="font-family:'Liberation Serif', serif;font-weight:bold">20</text>
<text x="376.50" y="2046.90" font-size="45.60" text-anchor="end" style="font-family:'Liberation Serif', serif;font-weight:bold">40</text>
<text x="376.50" y="1833.60" font-size="45.60" text-anchor="end" style="font-family:'Liberation Serif', serif;font-weight:bold">60</text>
<text x="376.50" y="1620.30" font-size="45.60" text-anchor="end" style="font-family:'Liberation Serif', serif;font-weight:bold">80</text>
<text x="376.50" y="1407.00" font-size="45.60" text-anchor="end" style="font-family:'Liberation Serif', serif;font-weight:bold">100</text>
<text x="397.40" y="2518.70" font-size="45.60" text-anchor="middle" style="font-family:'Liberation Serif', serif;font-weight:bold">0</text>
<text x="527.99" y="2518.70" font-size="45.60" text-anchor="middle" style="font-family:'Liberation Serif', serif;font-weight:bold">60</text>
<text x="658.58" y="2518.70" font-size="45.60" text-anchor="middle" style="font-family:'Liberation Serif', serif;font-weight:bold">120</text>
<text x="789.17" y="2518.70" font-size="45.60" text-anchor="middle" style="font-family:'Liberation Serif', serif;font-weight:bold">180</text>
<text x="919.76" y="2518.70" font-size="45.60" text-anchor="middle" style="font-family:'Liberation Serif', serif;font-weight:bold">240</text>
<text x="1050.35" y="2518.70" font-size="45.60" text-anchor="middle" style="font-family:'Liberation Serif', serif;font-weight:bold">300</text>
<text x="1180.94" y="2518.70" font-size="45.60" text-anchor="middle" style="font-family:'Liberation Serif', serif;font-weight:bold">360</text>
<text x="1311.53" y="2518.70" font-size="45.60" text-anchor="middle" style="font-family:'Liberation Serif', serif;font-weight:bold">420</text>
<text x="1442.12" y="2518.70" font-size="45.60" text-anchor="middle" style="font-family:'Liberation Serif', serif;font-weight:bold">480</text>
<text x="1572.71" y="2518.70" font-size="45.60" text-anchor="middle" style="font-family:'Liberation Serif', serif;font-weight:bold">540</text>
<text x="1703.30" y="2518.70" font-size="45.60" text-anchor="middle" style="font-family:'Liberation Serif', serif;font-weight:bold">600</text>
<text transform="translate(423.22,1500.31) scale(1.0069,1)" font-size="89.00" style="font-family:'Liberation Serif', serif;font-weight:bold">(c)</text>
<text transform="translate(1046.69,2227.62) scale(0.9501,1)" font-size="58.49" style="font-family:'Liberation Serif', serif;font-weight:bold">Temperature: 325</text>
<text transform="translate(1483.15,2204.72) scale(1.0235,1)" font-size="37.92" style="font-family:'Liberation Serif', serif;font-weight:bold">o</text>
<text transform="translate(1501.87,2228.21) scale(0.9878,1)" font-size="59.39" style="font-family:'Liberation Serif', serif;font-weight:bold">C</text>
<text transform="translate(936.70,2606.90) scale(0.9737,1)" font-size="56.50" style="font-family:'Liberation Serif', serif;font-weight:bold">Time/min</text>
<text transform="translate(285.80,2142.01) rotate(-90) scale(0.9584,1)" font-size="58.00" style="font-family:'Liberation Serif', serif;font-weight:bold">NO conversion/%</text>
</svg>
</body></html>
